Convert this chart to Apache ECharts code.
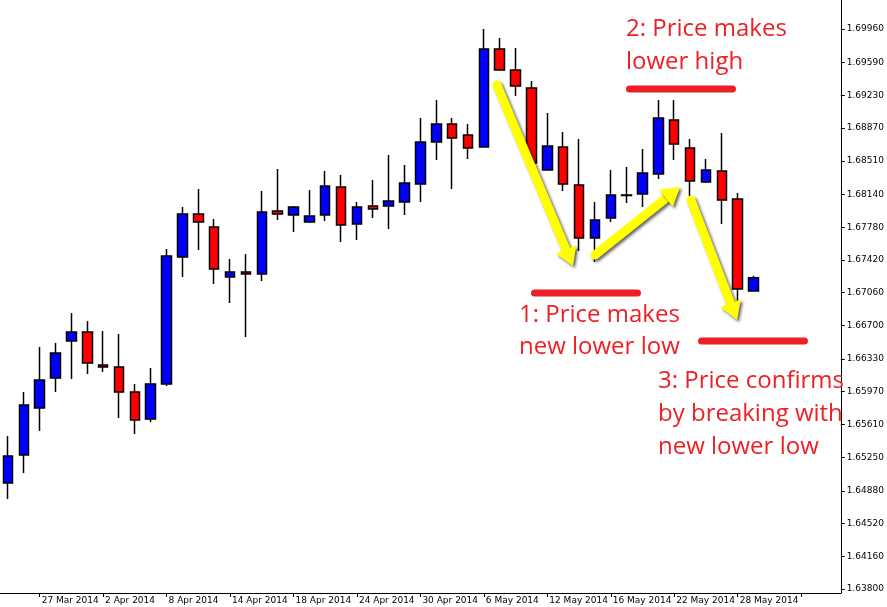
<!DOCTYPE html>
<html><head><meta charset="utf-8">
<script src="https://cdn.jsdelivr.net/npm/echarts@6/dist/echarts.min.js"></script>
<style>html,body{margin:0;padding:0;background:#fff}#c{width:887px;height:607px}</style>
</head><body><div id="c"></div>
<script>
const dates = ['25 Mar 2014','26 Mar 2014','27 Mar 2014','28 Mar 2014','31 Mar 2014',
'1 Apr 2014','2 Apr 2014','3 Apr 2014','4 Apr 2014','7 Apr 2014','8 Apr 2014','9 Apr 2014','10 Apr 2014','11 Apr 2014','14 Apr 2014','15 Apr 2014','16 Apr 2014','17 Apr 2014','18 Apr 2014','21 Apr 2014','22 Apr 2014','23 Apr 2014','24 Apr 2014','25 Apr 2014','28 Apr 2014','29 Apr 2014','30 Apr 2014',
'1 May 2014','2 May 2014','5 May 2014','6 May 2014','7 May 2014','8 May 2014','9 May 2014','12 May 2014','13 May 2014','14 May 2014','15 May 2014','16 May 2014','19 May 2014','20 May 2014','21 May 2014','22 May 2014','23 May 2014','26 May 2014','27 May 2014','28 May 2014','29 May 2014'];
const opens  = [1.64966,1.65274,1.65791,1.66121,1.66528,1.66627,1.66264,1.66242,1.65967,1.65670,1.66055,1.67452,1.67925,1.67782,1.67232,1.67287,1.67265,1.67958,1.67914,1.67837,1.67914,1.68222,1.67815,1.68013,1.68013,1.68057,1.68255,1.68717,1.68915,1.68794,1.68662,1.69740,1.69509,1.69311,1.68409,1.68662,1.68244,1.67661,1.67881,1.68134,1.68145,1.68365,1.68959,1.68651,1.68277,1.68398,1.68090,1.67078];
const closes = [1.65263,1.65824,1.66099,1.66396,1.66627,1.66286,1.66242,1.65967,1.65659,1.66055,1.67463,1.67925,1.67837,1.67320,1.67287,1.67265,1.67947,1.67925,1.68002,1.67903,1.68233,1.67804,1.68002,1.67980,1.68068,1.68266,1.68717,1.68915,1.68761,1.68651,1.69740,1.69509,1.69333,1.68486,1.68673,1.68255,1.67661,1.67859,1.68134,1.68129,1.68376,1.68981,1.68695,1.68288,1.68409,1.68079,1.67100,1.67224];
const lows   = [1.64790,1.65076,1.65538,1.65967,1.66110,1.66165,1.66187,1.65681,1.65505,1.65637,1.66033,1.67232,1.67529,1.67155,1.66946,1.66572,1.67188,1.67859,1.67727,1.67826,1.67848,1.67617,1.67639,1.67881,1.67760,1.67914,1.68057,1.68519,1.68200,1.68530,1.68662,1.69509,1.69223,1.68486,1.68409,1.68178,1.67518,1.67397,1.67837,1.68046,1.68002,1.68310,1.68519,1.68112,1.68266,1.67815,1.66957,1.67078];
const highs  = [1.65483,1.65967,1.66462,1.66506,1.66836,1.66748,1.66638,1.66605,1.66055,1.66231,1.67540,1.68002,1.68200,1.67870,1.67430,1.67485,1.68178,1.68420,1.68013,1.68189,1.68398,1.68354,1.68057,1.68299,1.68574,1.68464,1.68981,1.69179,1.68981,1.68915,1.69960,1.69861,1.69751,1.69388,1.69036,1.68827,1.68750,1.68057,1.68409,1.68442,1.68640,1.69179,1.69179,1.68750,1.68530,1.68816,1.68156,1.67246];
const yTicks = [1.63800,1.64160,1.64520,1.64880,1.65250,1.65610,1.65970,1.66330,1.66700,1.67060,1.67420,1.67780,1.68140,1.68510,1.68870,1.69230,1.69590,1.69960];
const lastPrice = 1.67224;

const cats = dates.concat(['','','','','']);
const ohlc = dates.map((d,i)=>[opens[i],closes[i],lows[i],highs[i]]);
const RED = '#ee2026';
const chart = echarts.init(document.getElementById('c'));

function arrow(x1,y1,x2,y2){
  const dx=x2-x1, dy=y2-y1, L=Math.hypot(dx,dy), ux=dx/L, uy=dy/L, px=-uy, py=ux;
  const hl=18, hw=11;
  const bx=x2-ux*hl, by=y2-uy*hl;
  const sh={shadowColor:'rgba(0,0,0,0.6)',shadowBlur:3,shadowOffsetX:2,shadowOffsetY:2};
  return [
    {type:'line',shape:{x1:x1,y1:y1,x2:bx,y2:by},style:Object.assign({stroke:'#ffff00',lineWidth:9,lineCap:'round'},sh),z:100},
    {type:'polygon',shape:{points:[[x2,y2],[bx+px*hw,by+py*hw],[bx-px*hw,by-py*hw]]},style:Object.assign({fill:'#ffff00'},sh),z:101}
  ];
}
function txt(x,y,s){return {type:'text',left:x,top:y,style:{text:s,fill:RED,font:'24px "Open Sans", sans-serif'},z:102};}
function bar(x1,x2,y){return {type:'rect',shape:{x:x1,y:y-3.5,width:x2-x1,height:7,r:3.5},style:{fill:RED},z:102};}

chart.setOption({
  animation:false,
  backgroundColor:'#fff',
  grid:{left:-1,right:44,top:0,bottom:14},
  xAxis:{type:'category',data:cats,boundaryGap:true,
    axisLine:{show:true,lineStyle:{color:'#000'}},
    axisTick:{show:true,alignWithLabel:true,length:4,inside:false,lineStyle:{color:'#000'},interval:(i)=>i%4===2},
    axisLabel:{interval:(i)=>i%4===2 && i<dates.length,align:'left',margin:3,color:'#000',fontSize:9,fontFamily:'DejaVu Sans',padding:[0,0,0,2]},
    splitLine:{show:false}},
  yAxis:{type:'value',position:'right',min:1.63756,max:1.70279,scale:true,
    axisLine:{show:true,onZero:false,lineStyle:{color:'#000'}},
    axisTick:{show:true,length:4,customValues:yTicks,lineStyle:{color:'#000'}},
    axisLabel:{customValues:yTicks,formatter:(v)=>v.toFixed(5),color:'#000',fontSize:9,fontFamily:'DejaVu Sans',margin:6},
    splitLine:{show:false}},
  series:[{type:'candlestick',data:ohlc,barWidth:10,
    itemStyle:{color:'#0000ff',color0:'#ff0000',borderColor:'#000',borderColor0:'#000',borderWidth:1.5},
    markLine:{symbol:'none',silent:true,data:[{yAxis:lastPrice}],lineStyle:{opacity:0},
      label:{position:'end',formatter:()=>lastPrice.toFixed(5),backgroundColor:'#000',color:'#fff',fontSize:9,fontFamily:'DejaVu Sans',padding:[1,2],distance:2}}
  }],
  graphic:[].concat(
    arrow(497,85,573,266), arrow(595,255,680,187), arrow(691,200,737,320),
    [bar(531,641,293), bar(626,736,89), bar(698,808,341),
     txt(626,17,'2: Price makes'), txt(626,50,'lower high'),
     txt(519,303,'1: Price makes'), txt(519,335,'new lower low'),
     txt(658,369,'3: Price confirms'), txt(658,402,'by breaking with'), txt(658,435,'new lower low')]
  )
});
</script></body></html>
